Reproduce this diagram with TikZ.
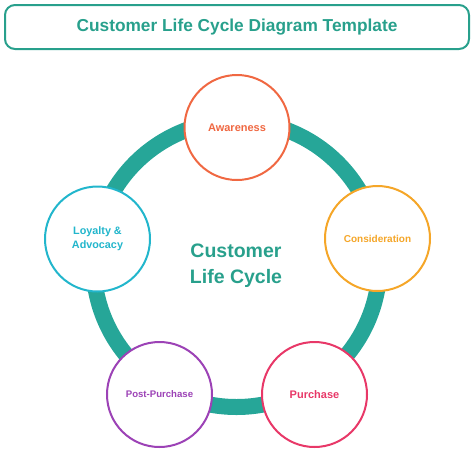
\documentclass[tikz,border=0pt]{standalone}
\usepackage{fontspec}
\setmainfont{Liberation Sans}
\definecolor{ringteal}{RGB}{38,166,152}
\definecolor{titleteal}{RGB}{40,160,140}
\definecolor{awareorange}{RGB}{240,104,66}
\definecolor{consorange}{RGB}{245,166,40}
\definecolor{buyred}{RGB}{232,56,104}
\definecolor{postpurple}{RGB}{156,66,182}
\definecolor{loyalcyan}{RGB}{34,182,204}
\tikzset{
  stage/.style={circle, draw=#1, text=#1, fill=white, line width=2pt,
    minimum size=105pt, inner sep=0pt, align=center},
  lbl/.style={font=\bfseries\fontsize{#1}{14}\selectfont}
}
\begin{document}
\begin{tikzpicture}[x=1pt, y=-1pt]
	\useasboundingbox (0,0) rectangle (474,451);
	\coordinate (O) at (236.5,264);
	% title box
	\node[draw=titleteal, line width=2pt, rounded corners=10pt, minimum width=464pt, minimum height=44pt,
		text=titleteal, font=\bfseries\fontsize{17.3}{20}\selectfont] (title) at (237,27) {Customer Life Cycle Diagram Template};
	% ring
	\draw[ringteal, line width=16pt] (O) circle (143);
	% stages
	\node[stage=awareorange, lbl=11] (aware) at (237,127.5) {Awareness};
	\node[stage=consorange, lbl=10] (consider) at (377.5,238.5) {Consideration};
	\node[stage=buyred, lbl=11] (buy) at (314.5,394.5) {Purchase};
	\node[stage=postpurple, lbl=9.6] (post) at (159.5,394.5) {Post-Purchase};
	\node[stage=loyalcyan, lbl=10.8] (loyal) at (97.5,239) {Loyalty \&\\Advocacy};
	% hub text
	\node[text=titleteal, align=center, font=\bfseries\fontsize{19.5}{26}\selectfont] (hub) at (236,266) {Customer\\Life Cycle};
\end{tikzpicture}
\end{document}
